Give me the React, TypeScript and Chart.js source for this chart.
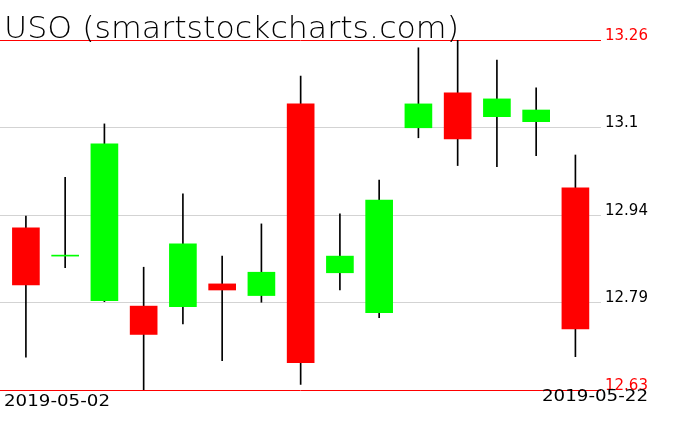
import { useEffect, useRef } from 'react';
import { Chart, registerables } from 'chart.js';

Chart.register(...registerables);

const chartTitle = 'USO (smartstockcharts.com)';

const dates = [
  '2019-05-02', '2019-05-03', '2019-05-06', '2019-05-07', '2019-05-08',
  '2019-05-09', '2019-05-10', '2019-05-13', '2019-05-14', '2019-05-15',
  '2019-05-16', '2019-05-17', '2019-05-20', '2019-05-21', '2019-05-22',
];
const opens = [12.922, 12.871, 12.791, 12.781, 12.78, 12.821, 12.8, 13.145, 12.841, 12.769, 13.102, 13.165, 13.122, 13.113, 12.994];
const closes = [12.819, 12.871, 13.073, 12.73, 12.893, 12.81, 12.842, 12.679, 12.871, 12.972, 13.145, 13.082, 13.154, 13.134, 12.74];
const highs = [12.943, 13.013, 13.109, 12.851, 12.983, 12.871, 12.929, 13.195, 12.947, 13.008, 13.246, 13.26, 13.224, 13.174, 13.053];
const lows = [12.689, 12.85, 12.789, 12.63, 12.749, 12.683, 12.788, 12.64, 12.81, 12.76, 13.084, 13.034, 13.032, 13.052, 12.69];

const yTickValues = [12.63, 12.7875, 12.945, 13.1025, 13.26];
const yTickLabels = ['12.63', '12.79', '12.94', '13.1', '13.26'];

const UP = '#00ff00';
const DOWN = '#ff0000';

function fitText(ctx: CanvasRenderingContext2D, text: string, x: number, baseline: number, width: number, font: string, color: string) {
  ctx.save();
  ctx.font = font;
  const w = ctx.measureText(text).width;
  const s = width / w;
  ctx.translate(x, baseline);
  ctx.scale(s, 1);
  ctx.fillStyle = color;
  ctx.textAlign = 'left';
  ctx.textBaseline = 'alphabetic';
  ctx.fillText(text, 0, 0);
  ctx.restore();
}

const textPlugin = {
  id: 'textPlugin',
  afterDraw(chart: any) {
    const ctx = chart.ctx as CanvasRenderingContext2D;
    fitText(ctx, chartTitle, 4, 38, 455, '200 30px "DejaVu Sans"', '#000');
    fitText(ctx, dates[0], 4, 406, 106, '15px "DejaVu Sans"', '#000');
    fitText(ctx, dates[dates.length - 1], 542, 401, 106, '15px "DejaVu Sans"', '#000');
  },
};

export default function App() {
  const ref = useRef<HTMLCanvasElement | null>(null);
  useEffect(() => {
    if (!ref.current) return;
    const idx = dates.map((_, i) => i);
    const colors = idx.map((i) => (closes[i] >= opens[i] ? UP : DOWN));
    const chart = new Chart(ref.current, {
      type: 'bar',
      data: {
        labels: dates,
        datasets: [
          {
            label: 'body',
            data: idx.map((i) => ({ x: i, y: [opens[i], closes[i]] })) as any,
            backgroundColor: colors,
            borderWidth: 0,
            barThickness: 27,
            minBarLength: 1,
            grouped: false,
          } as any,
          {
            label: 'wick',
            data: idx.map((i) => ({ x: i, y: [lows[i], highs[i]] })) as any,
            backgroundColor: '#000000',
            borderWidth: 0,
            barThickness: 1,
            grouped: false,
          } as any,
        ],
      },
      options: {
        responsive: false,
        animation: false,
        devicePixelRatio: 1,
        events: [],
        layout: { padding: { top: 40, bottom: 41, left: 0, right: 0 } },
        plugins: { legend: { display: false }, tooltip: { enabled: false }, title: { display: false } },
        scales: {
          x: {
            type: 'linear',
            display: false,
            offset: false,
            min: -0.66,
            max: 14.652,
          },
          y: {
            type: 'linear',
            position: 'right',
            min: 12.63,
            max: 13.26,
            z: 1,
            afterBuildTicks: (scale: any) => {
              scale.ticks = yTickValues.map((v) => ({ value: v }));
            },
            afterFit: (scale: any) => {
              scale.width = 75;
            },
            border: { display: false },
            grid: {
              drawTicks: false,
              lineWidth: 1,
              color: (ctx: any) =>
                ctx.index === 0 || ctx.index === yTickValues.length - 1 ? '#ff0000' : '#d3d3d3',
            },
            ticks: {
              autoSkip: false,
              padding: 4,
              labelOffset: -4,
              font: { family: '"DejaVu Sans"', size: 15 },
              color: (ctx: any) =>
                ctx.index === 0 || ctx.index === yTickValues.length - 1 ? '#ff0000' : '#000000',
              callback: (_v: any, i: number) => yTickLabels[i],
            },
          },
        },
      } as any,
      plugins: [textPlugin],
    });
    return () => chart.destroy();
  }, []);
  return (
    <div style={{ position: 'absolute', left: 0, top: 0, width: 676, height: 431, background: '#fff' }}>
      <canvas ref={ref} width={676} height={431} style={{ width: 676, height: 431, display: 'block' }} />
    </div>
  );
}
